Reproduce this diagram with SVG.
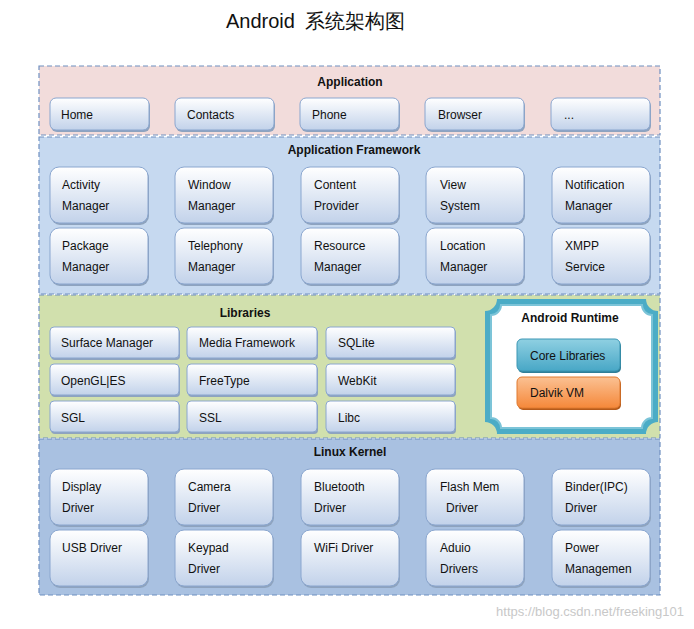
<svg xmlns="http://www.w3.org/2000/svg" width="694" height="629" viewBox="0 0 694 629">
<defs>
<linearGradient id="g" x1="0" y1="0" x2="0" y2="1"><stop offset="0" stop-color="#ffffff"/><stop offset="1" stop-color="#c2d2ea"/></linearGradient>
<linearGradient id="gb" x1="0" y1="0" x2="0" y2="1"><stop offset="0" stop-color="#8fd0e2"/><stop offset="1" stop-color="#48a7c6"/></linearGradient>
<linearGradient id="go" x1="0" y1="0" x2="0" y2="1"><stop offset="0" stop-color="#fbc193"/><stop offset="1" stop-color="#f5883a"/></linearGradient>
</defs>
<style>
.band{stroke:#6f8fc0;stroke-width:1.2;stroke-dasharray:5 3}
.b{fill:url(#g);stroke:#8aa6cf;stroke-width:1}
.sh{fill:#8ea3be}
text{font-family:"Liberation Sans",Arial,sans-serif;font-size:12px;fill:#111}
.h{font-weight:bold;text-anchor:middle}
</style>
<rect width="694" height="629" fill="#fff"/>
<text x="226" y="28" style="font-size:20px" font-family="'Liberation Sans','Noto Sans CJK SC',sans-serif">Android<tspan dx="10">系统架构图</tspan></text>
<rect class="band" x="39" y="66" width="621" height="69" fill="#f2dcdb"/>
<rect class="band" x="39" y="137" width="621" height="157" fill="#c6d9f0"/>
<rect class="band" x="39" y="295" width="621" height="143" fill="#d1e0ad"/>
<rect class="band" x="39" y="439" width="621" height="156" fill="#a9c1e1"/>
<text class="h" x="350" y="86">Application</text>
<text class="h" x="354" y="154">Application Framework</text>
<text class="h" x="245" y="317">Libraries</text>
<text class="h" x="350" y="456">Linux Kernel</text>
<g id="app">
<g><rect class="sh" x="51" y="100" width="99" height="32" rx="6"/><rect class="b" x="50" y="98" width="99" height="32" rx="6"/><text x="61" y="119">Home</text></g>
<g><rect class="sh" x="176" y="100" width="99" height="32" rx="6"/><rect class="b" x="175" y="98" width="99" height="32" rx="6"/><text x="187" y="119">Contacts</text></g>
<g><rect class="sh" x="301" y="100" width="99" height="32" rx="6"/><rect class="b" x="300" y="98" width="99" height="32" rx="6"/><text x="312" y="119">Phone</text></g>
<g><rect class="sh" x="426" y="100" width="99" height="32" rx="6"/><rect class="b" x="425" y="98" width="99" height="32" rx="6"/><text x="438" y="119">Browser</text></g>
<g><rect class="sh" x="552" y="100" width="99" height="32" rx="6"/><rect class="b" x="551" y="98" width="99" height="32" rx="6"/><text x="564" y="119">...</text></g>
</g>
<g id="framework">
<g><rect class="sh" x="51" y="169" width="98" height="56" rx="9"/><rect class="b" x="50" y="167" width="98" height="56" rx="9"/><text x="62" y="189">Activity</text><text x="62" y="210">Manager</text></g>
<g><rect class="sh" x="176" y="169" width="98" height="56" rx="9"/><rect class="b" x="175" y="167" width="98" height="56" rx="9"/><text x="188" y="189">Window</text><text x="188" y="210">Manager</text></g>
<g><rect class="sh" x="302" y="169" width="98" height="56" rx="9"/><rect class="b" x="301" y="167" width="98" height="56" rx="9"/><text x="314" y="189">Content</text><text x="314" y="210">Provider</text></g>
<g><rect class="sh" x="427" y="169" width="98" height="56" rx="9"/><rect class="b" x="426" y="167" width="98" height="56" rx="9"/><text x="440" y="189">View</text><text x="440" y="210">System</text></g>
<g><rect class="sh" x="553" y="169" width="98" height="56" rx="9"/><rect class="b" x="552" y="167" width="98" height="56" rx="9"/><text x="565" y="189">Notification</text><text x="565" y="210">Manager</text></g>
<g><rect class="sh" x="51" y="230" width="98" height="56" rx="9"/><rect class="b" x="50" y="228" width="98" height="56" rx="9"/><text x="62" y="250">Package</text><text x="62" y="271">Manager</text></g>
<g><rect class="sh" x="176" y="230" width="98" height="56" rx="9"/><rect class="b" x="175" y="228" width="98" height="56" rx="9"/><text x="188" y="250">Telephony</text><text x="188" y="271">Manager</text></g>
<g><rect class="sh" x="302" y="230" width="98" height="56" rx="9"/><rect class="b" x="301" y="228" width="98" height="56" rx="9"/><text x="314" y="250">Resource</text><text x="314" y="271">Manager</text></g>
<g><rect class="sh" x="427" y="230" width="98" height="56" rx="9"/><rect class="b" x="426" y="228" width="98" height="56" rx="9"/><text x="440" y="250">Location</text><text x="440" y="271">Manager</text></g>
<g><rect class="sh" x="553" y="230" width="98" height="56" rx="9"/><rect class="b" x="552" y="228" width="98" height="56" rx="9"/><text x="565" y="250">XMPP</text><text x="565" y="271">Service</text></g>
</g>
<g id="libraries">
<g><rect class="sh" x="51" y="329" width="129" height="31" rx="4"/><rect class="b" x="50" y="327" width="129" height="31" rx="4"/><text x="61" y="347">Surface Manager</text></g>
<g><rect class="sh" x="188" y="329" width="130" height="31" rx="4"/><rect class="b" x="187" y="327" width="130" height="31" rx="4"/><text x="199" y="347">Media Framework</text></g>
<g><rect class="sh" x="327" y="329" width="129" height="31" rx="4"/><rect class="b" x="326" y="327" width="129" height="31" rx="4"/><text x="338" y="347">SQLite</text></g>
<g><rect class="sh" x="51" y="366" width="129" height="31" rx="4"/><rect class="b" x="50" y="364" width="129" height="31" rx="4"/><text x="61" y="385">OpenGL|ES</text></g>
<g><rect class="sh" x="188" y="366" width="130" height="31" rx="4"/><rect class="b" x="187" y="364" width="130" height="31" rx="4"/><text x="199" y="385">FreeType</text></g>
<g><rect class="sh" x="327" y="366" width="129" height="31" rx="4"/><rect class="b" x="326" y="364" width="129" height="31" rx="4"/><text x="338" y="385">WebKit</text></g>
<g><rect class="sh" x="51" y="403" width="129" height="31" rx="4"/><rect class="b" x="50" y="401" width="129" height="31" rx="4"/><text x="61" y="422">SGL</text></g>
<g><rect class="sh" x="188" y="403" width="130" height="31" rx="4"/><rect class="b" x="187" y="401" width="130" height="31" rx="4"/><text x="199" y="422">SSL</text></g>
<g><rect class="sh" x="327" y="403" width="129" height="31" rx="4"/><rect class="b" x="326" y="401" width="129" height="31" rx="4"/><text x="338" y="422">Libc</text></g>
</g>
<g id="runtime">
<path d="M497,299 H646 A12,12 0 0 0 658,311 V422 A12,12 0 0 0 646,434 H497 A12,12 0 0 0 485,422 V311 A12,12 0 0 0 497,299 Z" fill="#4bacc6"/>
<path d="M501,305 H642 A10,10 0 0 0 652,315 V418 A10,10 0 0 0 642,428 H501 A10,10 0 0 0 491,418 V315 A10,10 0 0 0 501,305 Z" fill="#fff" stroke="#7cc4d8" stroke-width="2"/>
<text class="h" x="570" y="322">Android Runtime</text>
<g id="core"><rect x="518" y="341" width="103" height="32" rx="5" fill="#2f7e98"/><rect x="517" y="339" width="103" height="32" rx="5" fill="url(#gb)" stroke="#3c97b4"/><text x="530" y="360">Core Libraries</text></g>
<g id="dalvik"><rect x="518" y="379" width="103" height="31" rx="5" fill="#b55a1a"/><rect x="517" y="377" width="103" height="31" rx="5" fill="url(#go)" stroke="#e07a30"/><text x="530" y="397">Dalvik VM</text></g>
</g>
<g id="kernel">
<g><rect class="sh" x="51" y="471" width="98" height="56" rx="9"/><rect class="b" x="50" y="469" width="98" height="56" rx="9"/><text x="62" y="491">Display</text><text x="62" y="512">Driver</text></g>
<g><rect class="sh" x="176" y="471" width="98" height="56" rx="9"/><rect class="b" x="175" y="469" width="98" height="56" rx="9"/><text x="188" y="491">Camera</text><text x="188" y="512">Driver</text></g>
<g><rect class="sh" x="302" y="471" width="98" height="56" rx="9"/><rect class="b" x="301" y="469" width="98" height="56" rx="9"/><text x="314" y="491">Bluetooth</text><text x="314" y="512">Driver</text></g>
<g><rect class="sh" x="427" y="471" width="98" height="56" rx="9"/><rect class="b" x="426" y="469" width="98" height="56" rx="9"/><text x="440" y="491">Flash Mem</text><text x="446" y="512">Driver</text></g>
<g><rect class="sh" x="553" y="471" width="98" height="56" rx="9"/><rect class="b" x="552" y="469" width="98" height="56" rx="9"/><text x="565" y="491">Binder(IPC)</text><text x="565" y="512">Driver</text></g>
<g><rect class="sh" x="51" y="532" width="98" height="56" rx="9"/><rect class="b" x="50" y="530" width="98" height="56" rx="9"/><text x="62" y="552">USB Driver</text></g>
<g><rect class="sh" x="176" y="532" width="98" height="56" rx="9"/><rect class="b" x="175" y="530" width="98" height="56" rx="9"/><text x="188" y="552">Keypad</text><text x="188" y="573">Driver</text></g>
<g><rect class="sh" x="302" y="532" width="98" height="56" rx="9"/><rect class="b" x="301" y="530" width="98" height="56" rx="9"/><text x="314" y="552">WiFi Driver</text></g>
<g><rect class="sh" x="427" y="532" width="98" height="56" rx="9"/><rect class="b" x="426" y="530" width="98" height="56" rx="9"/><text x="440" y="552">Aduio</text><text x="440" y="573">Drivers</text></g>
<g><rect class="sh" x="553" y="532" width="98" height="56" rx="9"/><rect class="b" x="552" y="530" width="98" height="56" rx="9"/><text x="565" y="552">Power</text><text x="565" y="573">Managemen</text></g>
</g>
<g id="connectors"/>
<text x="684" y="616" text-anchor="end" style="font-size:13px;fill:#c8c8c8">https://blog.csdn.net/freeking101</text>
</svg>
